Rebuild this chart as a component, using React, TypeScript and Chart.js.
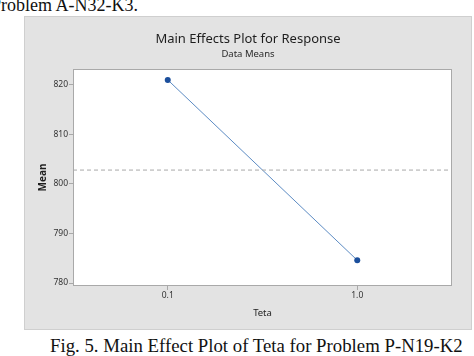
import React, { useEffect, useRef } from "react";
import { Chart, registerables } from "chart.js";

Chart.register(...registerables);

const categories = ["0.1", "1.0"];
const meanValues = [821.0, 784.6];
const grandMean = 802.8;
const yTickValues = [780, 790, 800, 810, 820];

const panelPlugin = {
  id: "panelPlugin",
  beforeDraw(chart: any) {
    const { ctx, width, height, chartArea } = chart;
    ctx.save();
    ctx.fillStyle = "#e3e3e3";
    ctx.fillRect(0, 0, width, height);
    ctx.strokeStyle = "#cfcfcf";
    ctx.lineWidth = 1;
    ctx.strokeRect(0.5, 0.5, width - 1, height - 1);
    ctx.fillStyle = "#ffffff";
    ctx.fillRect(chartArea.left, chartArea.top, chartArea.right - chartArea.left, chartArea.bottom - chartArea.top);
    ctx.restore();
  },
  afterDraw(chart: any) {
    const { ctx, chartArea } = chart;
    ctx.save();
    ctx.strokeStyle = "#a9a9a9";
    ctx.lineWidth = 1;
    ctx.strokeRect(
      Math.round(chartArea.left) + 0.5,
      Math.round(chartArea.top) + 0.5,
      Math.round(chartArea.right - chartArea.left) - 1,
      Math.round(chartArea.bottom - chartArea.top) - 1
    );
    ctx.restore();
  },
};

function MainEffectsChart() {
  const ref = useRef<HTMLCanvasElement>(null);
  useEffect(() => {
    if (!ref.current) return;
    const font = "'Noto Sans', 'Open Sans', sans-serif";
    const points = categories.map((_, i) => ({ x: i, y: meanValues[i] }));
    const chart = new Chart(ref.current, {
      type: "line",
      data: {
        datasets: [
          {
            data: [
              { x: -0.5, y: grandMean },
              { x: categories.length - 0.5, y: grandMean },
            ],
            borderColor: "#a8a8a8",
            borderWidth: 1,
            borderDash: [4, 3],
            pointRadius: 0,
            fill: false,
          },
          {
            data: points,
            borderColor: "#5d8cc4",
            borderWidth: 1,
            pointRadius: 3,
            pointBackgroundColor: "#1b4f9c",
            pointBorderWidth: 0,
            fill: false,
          },
        ],
      },
      options: {
        responsive: false,
        animation: false,
        devicePixelRatio: 1,
        layout: { padding: { left: 0, right: 0, top: 0, bottom: 0 } },
        plugins: {
          legend: { display: false },
          tooltip: { enabled: false },
          title: {
            display: true,
            text: "Main Effects Plot for Response",
            color: "#1e1e1e",
            font: { family: font, size: 13, weight: "normal", lineHeight: 1.2 },
            padding: { top: 15, bottom: 2 },
          },
          subtitle: {
            display: true,
            text: "Data Means",
            color: "#2a2a2a",
            font: { family: font, size: 9.5, weight: "normal", lineHeight: 1.2 },
            padding: { top: 0, bottom: 9 },
          },
        },
        scales: {
          x: {
            type: "linear",
            min: -0.5,
            max: categories.length - 0.5,
            afterFit(scale: any) {
              scale.height = 44;
            },
            afterBuildTicks(scale: any) {
              scale.ticks = categories.map((_, i) => ({ value: i }));
            },
            ticks: {
              callback: (v: any) => categories[Number(v)] ?? "",
              color: "#333333",
              font: { family: font, size: 8.5 },
              padding: 0,
              maxRotation: 0,
            },
            grid: {
              display: true,
              drawOnChartArea: false,
              drawTicks: true,
              tickLength: 4,
              color: "#a9a9a9",
            },
            border: { display: false },
            title: {
              display: true,
              text: "Teta",
              color: "#222222",
              font: { family: font, size: 9.5, lineHeight: 1.2 },
              padding: { top: 0, bottom: 11.5 },
            },
          },
          y: {
            min: 779.4,
            max: 823.2,
            afterFit(scale: any) {
              scale.width = 49;
            },
            afterBuildTicks(scale: any) {
              scale.ticks = yTickValues.map((v) => ({ value: v }));
            },
            ticks: {
              color: "#333333",
              font: { family: font, size: 8.5 },
              padding: 1,
            },
            grid: {
              display: true,
              drawOnChartArea: false,
              drawTicks: true,
              tickLength: 4,
              color: "#a9a9a9",
            },
            border: { display: false },
            title: {
              display: true,
              text: "Mean",
              color: "#1e1e1e",
              font: { family: font, size: 10, weight: "bold", lineHeight: 1.2 },
              padding: { top: 12.7, bottom: 0 },
            },
          },
          yRight: {
            position: "right",
            min: 779.4,
            max: 823.2,
            afterFit(scale: any) {
              scale.width = 20;
            },
            ticks: { display: false },
            grid: { display: false },
            border: { display: false },
          },
        },
      },
      plugins: [panelPlugin],
    } as any);
    return () => chart.destroy();
  }, []);
  return <canvas ref={ref} width={448} height={314} style={{ display: "block", width: 448, height: 314 }} />;
}

export default function App() {
  const serif = "'Liberation Serif', 'Times New Roman', serif";
  return (
    <div
      style={{
        position: "fixed",
        left: 0,
        top: 0,
        width: 474,
        height: 356,
        background: "#ffffff",
        overflow: "hidden",
      }}
    >
      <div
        style={{
          position: "absolute",
          right: 474 - 138,
          top: -5.5,
          fontFamily: serif,
          fontSize: 18,
          lineHeight: "20px",
          color: "#111",
          whiteSpace: "nowrap",
        }}
      >
        Problem A-N32-K3.
      </div>
      <div style={{ position: "absolute", left: 24, top: 16 }}>
        <MainEffectsChart />
      </div>
      <div
        style={{
          position: "absolute",
          left: 50,
          top: 335.5,
          fontFamily: serif,
          fontSize: 18.8,
          lineHeight: "20px",
          color: "#111",
          whiteSpace: "nowrap",
        }}
      >
        Fig. 5. Main Effect Plot of Teta for Problem P-N19-K2
      </div>
    </div>
  );
}
